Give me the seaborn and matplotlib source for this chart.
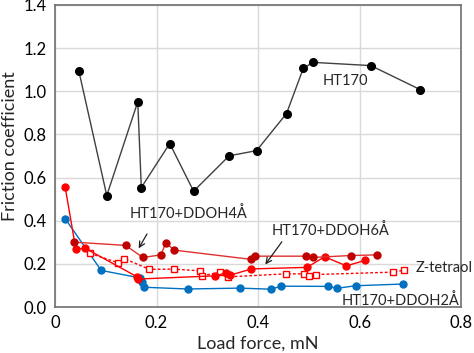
import matplotlib
matplotlib.use("Agg")
import matplotlib.pyplot as plt
import seaborn as sns
import pandas as pd

# HT170
ht_x = [0.047, 0.102, 0.163, 0.170, 0.226, 0.273, 0.343, 0.397, 0.456, 0.489, 0.508, 0.622, 0.719]
ht_y = [1.094, 0.517, 0.951, 0.554, 0.758, 0.537, 0.701, 0.725, 0.897, 1.106, 1.134, 1.119, 1.008]

# HT170+DDOH4Å (dark red)
d4_x = [0.0375, 0.139, 0.173, 0.209, 0.218, 0.235, 0.387, 0.393, 0.495, 0.508, 0.582, 0.634]
d4_y = [0.301, 0.286, 0.230, 0.242, 0.298, 0.264, 0.221, 0.236, 0.236, 0.230, 0.239, 0.242]

# HT170+DDOH6Å (red)
d6_x = [0.020, 0.041, 0.060, 0.162, 0.164, 0.316, 0.337, 0.345, 0.387, 0.496, 0.531, 0.574, 0.610]
d6_y = [0.557, 0.269, 0.272, 0.140, 0.130, 0.145, 0.159, 0.148, 0.177, 0.184, 0.233, 0.191, 0.216]

# Z-tetraol (open squares, dashed)
zt_x = [0.069, 0.125, 0.136, 0.186, 0.235, 0.286, 0.289, 0.324, 0.340, 0.454, 0.491, 0.500, 0.515, 0.665, 0.688]
zt_y = [0.249, 0.205, 0.225, 0.175, 0.176, 0.168, 0.144, 0.162, 0.140, 0.154, 0.154, 0.145, 0.151, 0.162, 0.171]

# HT170+DDOH2Å (blue)
d2_x = [0.020, 0.091, 0.168, 0.172, 0.176, 0.261, 0.364, 0.425, 0.446, 0.537, 0.555, 0.592, 0.686]
d2_y = [0.410, 0.170, 0.135, 0.115, 0.092, 0.084, 0.088, 0.083, 0.097, 0.096, 0.087, 0.099, 0.107]

x_ticks = [0, 0.2, 0.4, 0.6, 0.8]
x_tick_labels = ["0", "0.2", "0.4", "0.6", "0.8"]
y_ticks = [0.0, 0.2, 0.4, 0.6, 0.8, 1.0, 1.2, 1.4]

sns.set_style("whitegrid")
plt.rcParams['font.family'] = ['Lato', 'DejaVu Sans']

fig = plt.figure(figsize=(4.74, 3.53), dpi=100)
ax = fig.add_axes([0.116, 0.130, 0.857, 0.856])

def draw(x, y, color, mfc, marker, ls, mec=None, ms=5, lc=None):
    df = pd.DataFrame({"x": x, "y": y})
    sns.lineplot(data=df, x="x", y="y", sort=False, estimator=None, ax=ax,
                 color=lc or color, linestyle=ls, linewidth=1.0, marker=marker,
                 markersize=ms, markerfacecolor=mfc, markeredgecolor=mec or color,
                 markeredgewidth=1.0, zorder=3)

draw(ht_x, ht_y, "#000000", "#000000", "o", "-", lc="#404040", ms=5.5)
draw(d2_x, d2_y, "#0070C0", "#0070C0", "o", "-", ms=5)
draw(zt_x, zt_y, "#FF0000", "white", "s", (0, (2, 1.5)), ms=5)
draw(d6_x, d6_y, "#FF0000", "#FF0000", "o", "-", ms=5)
draw(d4_x, d4_y, "#C00000", "#C00000", "o", "-", lc="#E03030", ms=5)

ax.set_xlim(0, 0.8)
ax.set_ylim(0, 1.4)
ax.set_xticks(x_ticks)
ax.set_xticklabels(x_tick_labels)
ax.set_yticks(y_ticks)
ax.set_yticklabels([f"{v:.1f}" for v in y_ticks])
ax.tick_params(labelsize=12, direction="in", length=3.5, width=1.0,
               color="#606060", labelcolor="#000000", pad=6)
ax.grid(True, color="#D9D9D9", linewidth=1.0)
for s in ax.spines.values():
    s.set_color("#707070")
    s.set_linewidth(1.2)
ax.set_xlabel("Load force, mN", fontsize=13)
ax.set_ylabel("Friction coefficient", fontsize=13)
ax.xaxis.set_label_coords(0.5, -0.096)
ax.yaxis.set_label_coords(-0.090, 0.533)

ax.text(0.572, 1.046, "HT170", fontsize=10.5, ha="center", va="center")
ax.text(0.263, 0.435, "HT170+DDOH4Å", fontsize=10.5, ha="center", va="center")
ax.text(0.542, 0.356, "HT170+DDOH6Å", fontsize=10.5, ha="center", va="center")
ax.text(0.710, 0.179, "Z-tetraol", fontsize=10.5, ha="left", va="center", clip_on=False)
ax.text(0.680, 0.032, "HT170+DDOH2Å", fontsize=10.5, ha="center", va="center")

ax.annotate("", xy=(0.162, 0.261), xytext=(0.184, 0.350),
            arrowprops=dict(arrowstyle="->", color="#202020", lw=0.9))
ax.annotate("", xy=(0.411, 0.187), xytext=(0.450, 0.313),
            arrowprops=dict(arrowstyle="->", color="#202020", lw=0.9))

fig.savefig("out.png", dpi=100)
